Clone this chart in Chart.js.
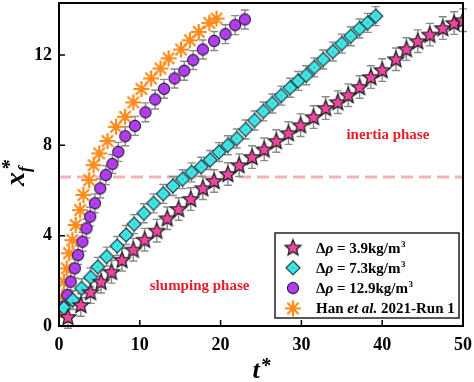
<!DOCTYPE html>
<html><head><meta charset="utf-8">
<script src="https://cdn.jsdelivr.net/npm/chart.js@4.4.1/dist/chart.umd.min.js"></script>
<style>html,body{margin:0;padding:0;background:#fff;}#wrap{width:474px;height:382px;position:relative;}</style>
</head><body><div id="wrap"><canvas id="c" width="474" height="382"></canvas></div>
<script>
// ---- data ----
const starT = [1.1, 2.7, 3.9, 5.2, 6.5, 7.8, 9.2, 10.6, 12.1, 13.4, 14.8, 16.3, 17.8, 19.2, 20.9, 22.3, 23.9, 25.4, 26.9, 28.4, 29.9, 31.5, 33.0, 34.5, 35.8, 37.2, 38.6, 40.0, 41.7, 43.0, 44.4, 45.9, 47.5, 48.9, 50.0];
const starX = [0.4, 0.93, 1.5, 1.96, 2.4, 2.93, 3.38, 3.82, 4.22, 4.77, 5.18, 5.62, 6.1, 6.42, 6.73, 7.12, 7.48, 7.82, 8.19, 8.54, 8.89, 9.25, 9.65, 9.91, 10.22, 10.58, 11.02, 11.33, 11.81, 12.26, 12.61, 12.9, 13.19, 13.41, 13.54];
const cyanT = [0.6, 1.7, 2.8, 3.9, 4.8, 5.9, 7.2, 8.3, 9.3, 10.5, 11.7, 12.9, 14.1, 15.3, 16.4, 17.6, 18.7, 19.8, 20.9, 22.0, 23.1, 24.2, 25.3, 26.4, 27.5, 28.6, 29.6, 30.6, 31.6, 32.7, 33.9, 35.0, 36.1, 37.2, 38.2, 39.2];
const cyanX = [0.8, 1.15, 1.67, 2.15, 2.62, 3.07, 3.54, 4.03, 4.51, 4.99, 5.43, 5.85, 6.2, 6.5, 6.8, 7.05, 7.35, 7.7, 8.0, 8.3, 8.7, 9.1, 9.5, 9.85, 10.2, 10.55, 10.85, 11.1, 11.45, 11.8, 12.15, 12.5, 12.83, 13.17, 13.42, 13.72];
const purpT = [0.54, 1.04, 1.45, 1.95, 2.36, 2.9, 3.4, 3.86, 4.44, 5.1, 5.8, 6.6, 7.34, 8.2, 9.4, 10.7, 11.9, 13.0, 14.3, 15.5, 16.6, 17.8, 19.2, 20.6, 21.8, 23.0];
const purpX = [0.85, 1.37, 1.96, 2.55, 3.14, 3.73, 4.32, 4.84, 5.43, 6.09, 6.68, 7.17, 7.71, 8.4, 8.86, 9.46, 10.03, 10.5, 10.96, 11.3, 11.77, 12.24, 12.62, 12.92, 13.32, 13.57];
const hanT = [0.2, 0.41, 0.62, 0.95, 1.24, 1.66, 2.07, 2.6, 3.02, 3.73, 4.27, 4.98, 6.0, 7.05, 8.17, 9.2, 10.2, 11.4, 12.56, 13.56, 15.1, 16.2, 17.3, 18.6, 19.5];
const hanX = [0.71, 1.3, 1.96, 2.55, 3.22, 3.8, 4.47, 5.13, 5.8, 6.46, 7.12, 7.64, 8.19, 8.82, 9.26, 9.9, 10.49, 10.96, 11.4, 11.85, 12.24, 12.65, 13.02, 13.42, 13.61];
const starErr = 0.5, cyanErr = 0.42, purpErr = 0.42;
const seriesLabels = ['Δρ = 3.9kg/m³', 'Δρ = 7.3kg/m³', 'Δρ = 12.9kg/m³', 'Han et al. 2021-Run 1'];
const xTicks = [0, 10, 20, 30, 40, 50];
const yTicks = [0, 4, 8, 12];
const phaseBoundary = 6.6;
const notes = [{text: 'inertia phase', t: 40.7, x: 8.45}, {text: 'slumping phase', t: 17.4, x: 1.77}];

// ---- marker images ----
function mk(size, draw) { const c = document.createElement('canvas'); c.width = c.height = size; draw(c.getContext('2d'), size / 2); return c; }
const imgStar = mk(20, (g, m) => {
  const r = 8.4; g.beginPath();
  for (let i = 0; i < 10; i++) { const a = -Math.PI / 2 + i * Math.PI / 5; const rr = i % 2 ? r * 0.45 : r; g.lineTo(m + rr * Math.cos(a), m + 0.6 + rr * Math.sin(a)); }
  g.closePath(); g.fillStyle = '#ee46a2'; g.fill(); g.lineWidth = 1.3; g.strokeStyle = '#222'; g.stroke();
});
const imgDiam = mk(18, (g, m) => {
  const r = 7; g.beginPath(); g.moveTo(m, m - r); g.lineTo(m + r, m); g.lineTo(m, m + r); g.lineTo(m - r, m); g.closePath();
  g.fillStyle = '#3ee6e6'; g.fill(); g.lineWidth = 1.2; g.strokeStyle = '#1d3c44'; g.stroke();
  g.fillStyle = '#3a6a70'; g.fillRect(m - 0.5, m - 0.5, 1, 1);
});
const imgCirc = mk(14, (g, m) => {
  g.beginPath(); g.arc(m, m, 5.6, 0, Math.PI * 2); g.fillStyle = '#b23ef0'; g.fill(); g.lineWidth = 1.1; g.strokeStyle = '#2a1838'; g.stroke();
  g.fillStyle = '#6a2a90'; g.fillRect(m - 0.5, m - 0.5, 1, 1);
});
const imgAst = mk(20, (g, m) => {
  const r = 8; g.strokeStyle = '#ff8a1a'; g.lineWidth = 2.2; g.lineCap = 'butt'; g.beginPath();
  for (let i = 0; i < 4; i++) { const a = i * Math.PI / 4; g.moveTo(m - r * Math.cos(a), m - r * Math.sin(a)); g.lineTo(m + r * Math.cos(a), m + r * Math.sin(a)); }
  g.stroke();
});
const images = [imgStar, imgDiam, imgCirc, imgAst];

const pts = (t, x) => t.map((v, i) => ({x: v, y: x[i]}));
const SERIF = '"Liberation Serif", "Times New Roman", serif';

function richText(ctx, s, x, y, size) {
  const parts = s.split(/(ρ|et al\.|³)/).filter(p => p.length);
  let cx = x;
  for (const p of parts) {
    if (p === '³') { ctx.font = 'bold ' + Math.round(size * 0.62) + 'px ' + SERIF; ctx.fillText('3', cx + 0.5, y - size * 0.38); cx += ctx.measureText('3').width + 0.5; }
    else { ctx.font = (p === 'ρ' || p === 'et al.' ? 'italic bold ' : 'bold ') + size + 'px ' + SERIF; ctx.fillText(p, cx, y); cx += ctx.measureText(p).width; }
  }
}

const deco = {
  id: 'deco',
  beforeDatasetsDraw(chart) {
    const {ctx, chartArea: a, scales: {x, y}} = chart;
    ctx.save();
    const py = y.getPixelForValue(phaseBoundary);
    ctx.strokeStyle = '#f5b4b4'; ctx.lineWidth = 3; ctx.setLineDash([12, 6]);
    ctx.beginPath(); ctx.moveTo(a.left, py); ctx.lineTo(a.right, py); ctx.stroke(); ctx.setLineDash([]);
    ctx.strokeStyle = '#8a8a8a'; ctx.lineWidth = 1.4;
    const errs = [starErr, cyanErr, purpErr];
    chart.data.datasets.forEach((ds, di) => {
      if (di > 2) return;
      const e = errs[di];
      ds.data.forEach(p => {
        const px = x.getPixelForValue(p.x), y1 = y.getPixelForValue(p.y + e), y2 = y.getPixelForValue(p.y - e);
        ctx.beginPath(); ctx.moveTo(px, y1); ctx.lineTo(px, y2);
        ctx.moveTo(px - 4, y1); ctx.lineTo(px + 4, y1); ctx.moveTo(px - 4, y2); ctx.lineTo(px + 4, y2); ctx.stroke();
      });
    });
    ctx.fillStyle = '#e3202b'; ctx.font = 'bold 15px ' + SERIF; ctx.textAlign = 'center'; ctx.textBaseline = 'middle';
    notes.forEach(n => ctx.fillText(n.text, x.getPixelForValue(n.t), y.getPixelForValue(n.x)));
    ctx.restore();
  },
  afterDraw(chart) {
    const {ctx, chartArea: a, scales: {x, y}} = chart;
    ctx.save();
    ctx.strokeStyle = '#000'; ctx.lineWidth = 2;
    ctx.strokeRect(a.left, a.top, a.right - a.left, a.bottom - a.top);
    ctx.lineWidth = 1.5; ctx.beginPath();
    xTicks.forEach(v => { const px = x.getPixelForValue(v); ctx.moveTo(px, a.bottom); ctx.lineTo(px, a.bottom - 6); });
    yTicks.forEach(v => { const py = y.getPixelForValue(v); ctx.moveTo(a.left, py); ctx.lineTo(a.left + 6, py); });
    ctx.stroke();
    const lx = 275, ly = 233, lw = 184, lh = 85;
    ctx.fillStyle = '#fff'; ctx.fillRect(lx, ly, lw, lh);
    ctx.lineWidth = 1.5; ctx.strokeStyle = '#222'; ctx.strokeRect(lx, ly, lw, lh);
    ctx.fillStyle = '#000'; ctx.textAlign = 'left'; ctx.textBaseline = 'alphabetic';
    seriesLabels.forEach((s, i) => {
      const cy = 247.5 + i * 20.3; const im = images[i];
      ctx.drawImage(im, 293 - im.width / 2, cy - im.height / 2);
      richText(ctx, s, 316, cy + 5, 15);
    });
    ctx.fillStyle = '#000';
    ctx.font = 'italic bold 26px ' + SERIF;
    const tw = ctx.measureText('t').width;
    ctx.font = 'italic bold 20px ' + SERIF; const sw = ctx.measureText('*').width;
    const tx = (a.left + a.right) / 2 - (tw + sw) / 2;
    ctx.font = 'italic bold 26px ' + SERIF; ctx.fillText('t', tx, 378);
    ctx.font = 'italic bold 20px ' + SERIF; ctx.fillText('*', tx + tw + 1, 372);
    ctx.translate(24, 170); ctx.rotate(-Math.PI / 2);
    ctx.font = 'italic bold 28px ' + SERIF; const xw = ctx.measureText('x').width;
    ctx.fillText('x', -16, 0);
    ctx.font = 'italic bold 17px ' + SERIF; ctx.fillText('f', -16 + xw, 6);
    ctx.font = 'italic bold 20px ' + SERIF; ctx.fillText('*', -16 + xw + 2, -8);
    ctx.restore();
  }
};

const mkDs = (label, t, x, img) => ({label, data: pts(t, x), pointStyle: img, pointRadius: 7, pointHoverRadius: 7, showLine: false, borderColor: 'transparent', backgroundColor: 'transparent'});

new Chart(document.getElementById('c'), {
  type: 'scatter',
  data: {datasets: [
    mkDs(seriesLabels[0], starT, starX, imgStar),
    mkDs(seriesLabels[1], cyanT, cyanX, imgDiam),
    mkDs(seriesLabels[2], purpT, purpX, imgCirc),
    mkDs(seriesLabels[3], hanT, hanX, imgAst)
  ]},
  options: {
    responsive: false, animation: false, devicePixelRatio: 1,
    layout: {autoPadding: false, padding: {top: 3, right: 11, left: 0, bottom: 0}},
    plugins: {legend: {display: false}, tooltip: {enabled: false}},
    scales: {
      x: {type: 'linear', min: 0, max: 50,
        afterBuildTicks: s => { s.ticks = xTicks.map(v => ({value: v})); },
        afterFit: s => { s.height = 56; s.paddingLeft = 0; s.paddingRight = 0; },
        grid: {display: false, drawTicks: false}, border: {display: false},
        ticks: {padding: 9, color: '#000', font: {family: SERIF, size: 18, weight: 'bold'}, maxRotation: 0}},
      y: {type: 'linear', min: 0, max: 14.3,
        afterBuildTicks: s => { s.ticks = yTicks.map(v => ({value: v})); },
        afterFit: s => { s.width = 59; s.paddingTop = 0; s.paddingBottom = 0; },
        grid: {display: false, drawTicks: false}, border: {display: false},
        ticks: {padding: 7, color: '#000', font: {family: SERIF, size: 18, weight: 'bold'}}}
    }
  },
  plugins: [deco]
});
</script>
</body></html>
